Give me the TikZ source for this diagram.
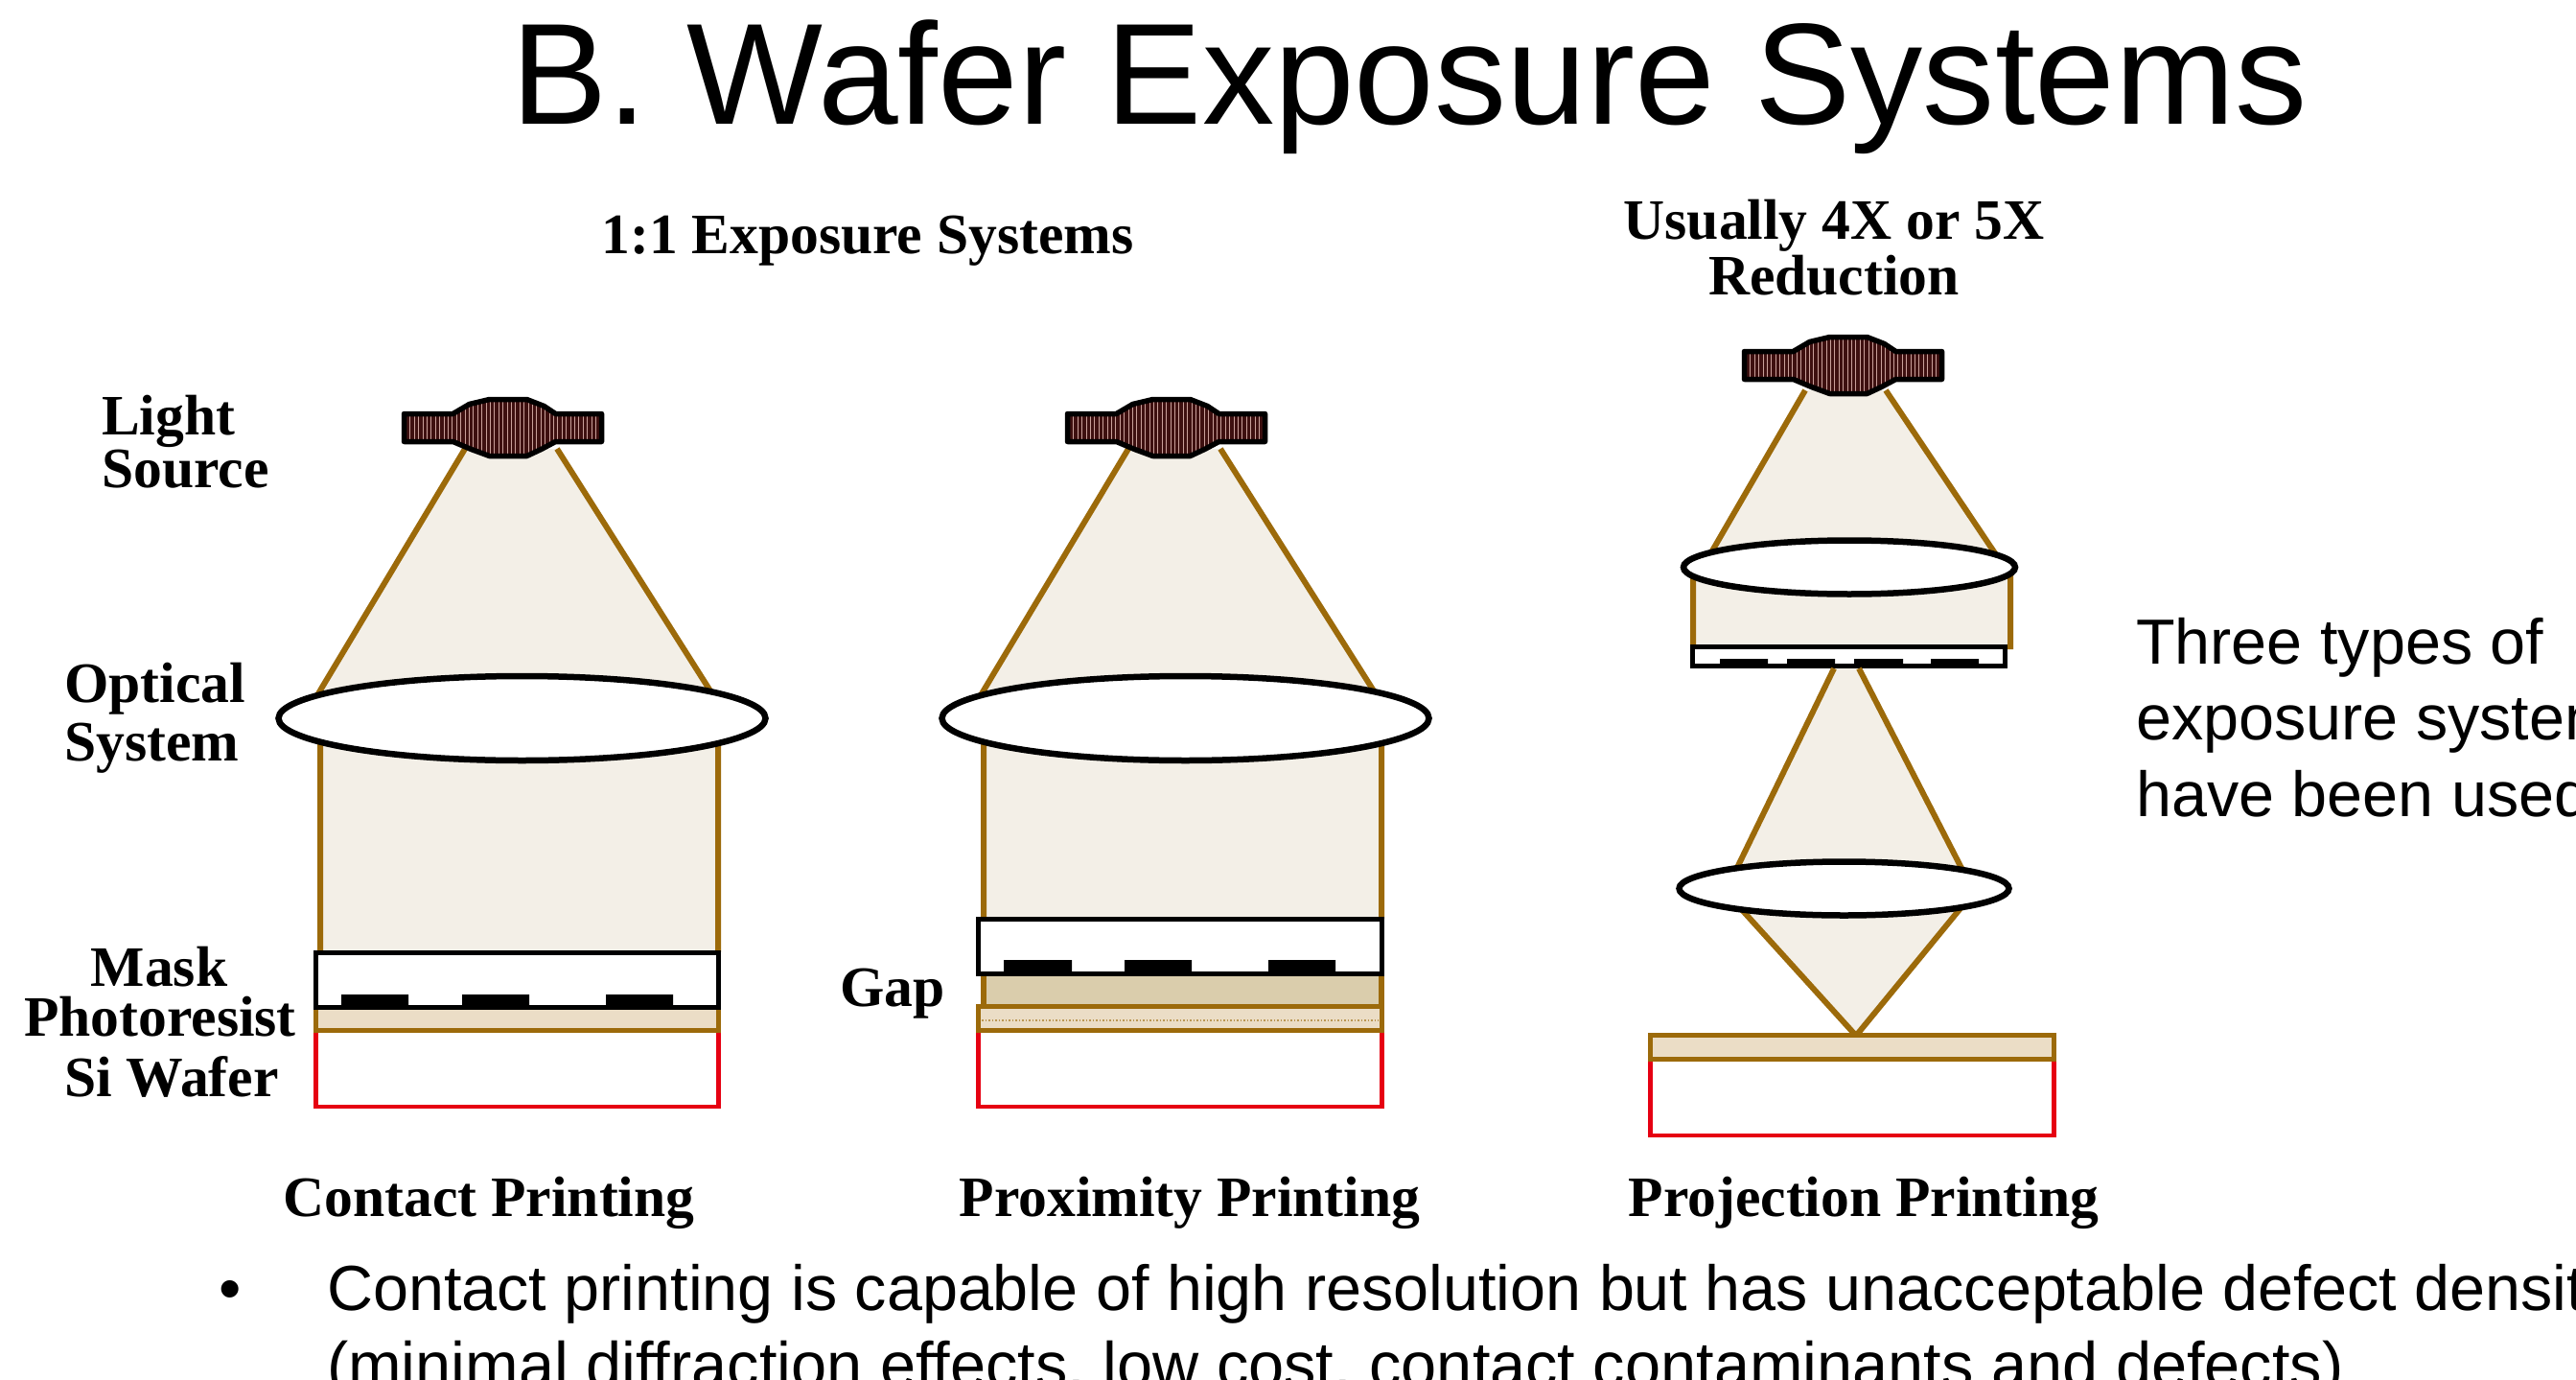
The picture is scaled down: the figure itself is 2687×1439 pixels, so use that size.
\documentclass[tikz,border=0pt]{standalone}
\usepackage{fontspec}
\setmainfont{Liberation Serif}
\setsansfont{Liberation Sans}
\definecolor{beamline}{HTML}{9C6A0A}
\definecolor{beamfill}{HTML}{F3EFE7}
\definecolor{resistfill}{HTML}{EBDDC6}
\definecolor{gapfill}{HTML}{DACDAC}
\definecolor{waferred}{HTML}{E60012}
\definecolor{lampfill}{HTML}{3E1010}
\definecolor{lamphatch}{HTML}{C9A09A}
\newcommand{\lampoutline}{(-103,-14.5)--(-52,-14.5)--(-35,-24.5)--(-14,-29.5)--(25,-29.5)--(43,-22.5)--(55,-14.5)--(103,-14.5)--(103,14.5)--(55,14.5)--(40,22.5)--(25,29.5)--(-14,29.5)--(-33,22.5)--(-52,14.5)--(-103,14.5)--cycle}
\newcommand{\lamp}[2]{%
  \begin{scope}[shift={(#1,#2)}]
    \fill[lampfill] \lampoutline;
    \begin{scope}
      \clip \lampoutline;
      \foreach \i in {-24,...,24} \draw[lamphatch,line width=0.7] (\i*4.4,-34)--(\i*4.4,34);
    \end{scope}
    \draw[black,line width=5.5,line join=round] \lampoutline;
  \end{scope}}
\tikzset{
  x=1pt,y=-1pt,
  beamedge/.style={draw=beamline,line width=6},
  lensshape/.style={draw=black,fill=white,line width=6.5},
  maskshape/.style={draw=black,fill=white,line width=5},
  chip/.style={fill=black},
  resist/.style={draw=beamline,fill=resistfill,line width=5},
  wafer/.style={draw=waferred,fill=white,line width=4.5},
  bold/.style={inner sep=0,font=\fontsize{59.6}{59.6}\selectfont\bfseries},
  body/.style={inner sep=0,font=\fontsize{66.5}{66.5}\selectfont\sffamily},
  bodywide/.style={inner sep=0,font=\fontsize{66.7}{66.7}\selectfont\sffamily},
  titletext/.style={inner sep=0,font=\fontsize{150.3}{150.3}\selectfont\sffamily},
}
\begin{document}
\begin{tikzpicture}
\useasboundingbox (0,0) rectangle (2687,1439);
\clip (0,0) rectangle (2687,1439);
\fill[white] (0,0) rectangle (2687,1439);

\node[titletext,anchor=base] (title) at (1470,130) {B. Wafer Exposure Systems};
\node[bold,anchor=base] (h11) at (905,265) {1:1 Exposure Systems};
\node[bold,anchor=base] (hra) at (1913,250) {Usually 4X or 5X};
\node[bold,anchor=base] (hrb) at (1913,307) {Reduction};
\node[bold,anchor=base west] (la) at (106,453) {Light};
\node[bold,anchor=base west] (lb) at (106,508) {Source};
\node[bold,anchor=base west] (oa) at (67,732) {Optical};
\node[bold,anchor=base west] (ob) at (67,793) {System};
\node[bold,anchor=base] (mk) at (166,1028) {Mask};
\node[bold,anchor=base] (pr) at (167,1080) {Photoresist};
\node[bold,anchor=base] (si) at (179,1143) {Si Wafer};
\node[bold,anchor=base] (gp) at (931,1049) {Gap};
\node[bold,anchor=base] (c1) at (510,1268) {Contact Printing};
\node[bold,anchor=base] (c2) at (1241,1268) {Proximity Printing};
\node[bold,anchor=base] (c3) at (1944,1268) {Projection Printing};
\node[body,anchor=base west] (t1) at (2228,692) {Three types of};
\node[body,anchor=base west] (t2) at (2228,771) {exposure systems};
\node[body,anchor=base west] (t3) at (2228,851) {have been used};
\node[body,anchor=base west] (bu) at (228,1366) {•};
\node[body,anchor=base west] (b1) at (341,1366) {Contact printing is capable of high resolution but has unacceptable defect density};
\node[bodywide,anchor=base west] (b2) at (341,1446) {(minimal diffraction effects, low cost, contact contaminants and defects)};

% Contact printing
\fill[beamfill] (485,468)--(328,730)--(334,770)--(334,993)--(749,993)--(749,770)--(747,730)--(581,468)--cycle;
\draw[beamedge] (485,468)--(328,730) (581,468)--(747,730) (334,770)--(334,993) (749,770)--(749,993);
\draw[lensshape] (544.5,749) ellipse [x radius=254,y radius=44];
\draw[wafer] (329.5,1074) rectangle (749.5,1154);
\draw[resist] (329.5,1050) rectangle (749.5,1074);
\draw[maskshape] (329.5,993) rectangle (749.5,1050);
\fill[chip] (356,1037) rectangle (426,1050) (482,1037) rectangle (552,1050) (632,1037) rectangle (702,1050);
\lamp{524.5}{446}

% Proximity printing
\fill[beamfill] (1177,468)--(1020,730)--(1026,770)--(1026,958)--(1441,958)--(1441,770)--(1439,730)--(1273,468)--cycle;
\draw[beamedge] (1177,468)--(1020,730) (1273,468)--(1439,730) (1026,770)--(1026,958) (1441,770)--(1441,958);
\draw[lensshape] (1236.5,749) ellipse [x radius=254,y radius=44];
\fill[gapfill] (1026,1015) rectangle (1441,1049);
\draw[beamedge] (1026,1015)--(1026,1049) (1441,1015)--(1441,1049);
\draw[wafer] (1020.5,1074) rectangle (1441.5,1154);
\draw[resist] (1020.5,1049) rectangle (1441.5,1074);
\draw[beamline!70,line width=1.5,dash pattern=on 1.5 off 2] (1024,1064)--(1438,1064);
\draw[maskshape] (1020.5,958) rectangle (1441.5,1015);
\fill[chip] (1047,1001) rectangle (1118,1015) (1173,1001) rectangle (1243,1015) (1323,1001) rectangle (1393,1015);
\lamp{1216.5}{446}

% Projection printing
\fill[beamfill] (1883,407)--(1781,583)--(1766,600)--(1766,675)--(2097,675)--(2097,600)--(2085,583)--(1967,407)--cycle;
\draw[beamedge] (1883,407)--(1781,583) (1967,407)--(2085,583) (1766,600)--(1766,675) (2097,600)--(2097,677);
\draw[lensshape] (1929,591.5) ellipse [x radius=173,y radius=28];
\draw[maskshape] (1765.5,674.5) rectangle (2091.5,694.5);
\fill[chip] (1794,687) rectangle (1844,695) (1864,687) rectangle (1914,695) (1934,687) rectangle (1985,695) (2014,687) rectangle (2064,695);
\fill[beamfill] (1913,697)--(1808,913)--(2050,913)--(1939,697)--cycle;
\draw[beamedge] (1913,697)--(1808,913) (1939,697)--(2050,913);
\fill[beamfill] (1810,941)--(1936,1080)--(2050,941)--cycle;
\draw[beamedge] (1810,941)--(1936,1080)--(2050,941);
\draw[lensshape] (1923.5,926.5) ellipse [x radius=172,y radius=28];
\draw[wafer] (1721.5,1104.5) rectangle (2142.5,1184);
\draw[resist] (1721.5,1079.5) rectangle (2142.5,1104.5);
\lamp{1922.5}{381}
\end{tikzpicture}
\end{document}
